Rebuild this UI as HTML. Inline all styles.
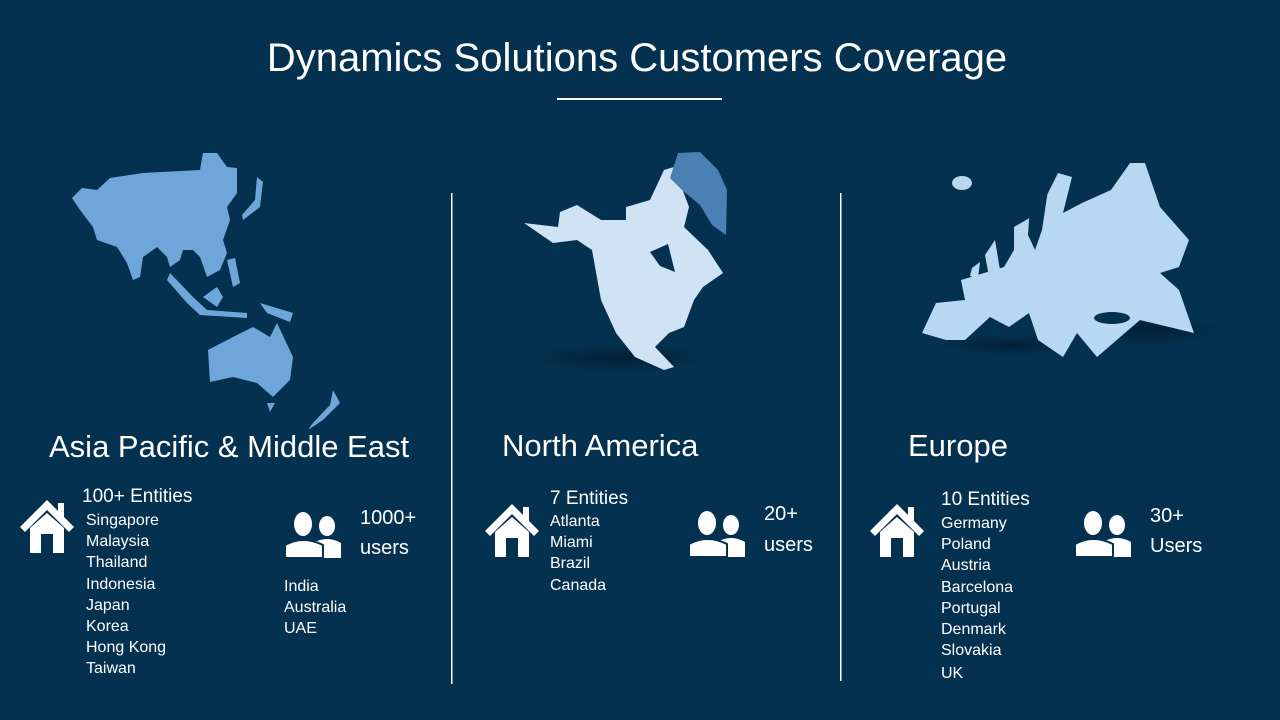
<!DOCTYPE html>
<html><head><meta charset="utf-8"><style>
html,body{margin:0;padding:0;background:#04314f;}
svg{display:block}
text{font-family:"Liberation Sans",sans-serif;fill:#fff}
</style></head><body>
<svg width="1280" height="720" viewBox="0 0 1280 720" xmlns="http://www.w3.org/2000/svg">
<defs>
<radialGradient id="sh" cx="50%" cy="50%" r="50%"><stop offset="0" stop-color="#001a2e" stop-opacity="0.8"/><stop offset="1" stop-color="#001a2e" stop-opacity="0"/></radialGradient>
<g id="house">
<polygon points="0,27 27,0 54,27 49,32 27,10 5,32" fill="#fff"/>
<rect x="38" y="3" width="6" height="14" fill="#fff"/>
<path d="M10,28 L27,13 L44,28 L44,53 L33,53 L33,34 L21,34 L21,53 L10,53 Z" fill="#fff"/>
</g>
<g id="ppl">
<ellipse cx="42" cy="16" rx="8" ry="10" fill="#fff"/>
<path d="M28,48 L28,33 Q42,25 56,33 L56,48 Z" fill="#fff"/>
<ellipse cx="18" cy="14" rx="10" ry="13" stroke="#04314f" stroke-width="2" fill="#fff"/>
<path d="M0,48 L0,35 Q18,25 38,35 L38,48 Z" fill="#fff" stroke="#04314f" stroke-width="2"/>
</g>
</defs>
<rect width="1280" height="720" fill="#04314f"/>
<text x="637" y="71" font-size="40" text-anchor="middle">Dynamics Solutions Customers Coverage</text>
<rect x="557" y="98" width="165" height="2" fill="#fff"/>
<rect x="451" y="193" width="1.5" height="491" fill="#fff"/>
<rect x="840" y="193" width="1.5" height="488" fill="#fff"/>

<!-- Asia -->
<g fill="#6fa6da">
<polygon points="72,198 82,188 97,190 110,178 143,173 200,170 203,153 217,153 227,167 237,168 237,193 227,207 230,220 223,240 227,253 220,270 207,277 200,257 193,250 183,250 180,260 170,267 167,257 157,247 143,257 140,277 133,280 127,263 117,247 97,240 93,227 80,210"/>
<polygon points="257,177 263,182 260,207 243,220 242,215 255,200"/>
<polygon points="170,273 193,297 207,310 247,313 247,318 200,315 187,303 167,280"/>
<polygon points="203,297 217,287 223,297 217,307"/>
<polygon points="260,303 293,313 290,322 267,313"/>
<polygon points="227,260 235,258 240,283 233,287"/>
<polygon points="208,350 233,337 253,327 270,337 277,323 293,357 290,380 273,397 257,383 233,377 210,382"/>
<polygon points="267,403 275,403 270,412"/>
<polygon points="333,390 340,403 323,420 308,430 312,424 330,405"/>
</g>

<!-- North America -->
<ellipse cx="620" cy="358" rx="90" ry="14" fill="url(#sh)"/>
<polygon fill="#cfe3f5" points="560,212 577,205 601,220 626,220 626,207 650,200 664,170 674,167 689,207 684,227 708,250 723,273 703,287 694,300 684,327 669,333 655,347 674,367 664,370 635,357 616,333 601,300 592,250 577,240 553,243 524,223 558,227"/>
<polygon fill="#04314f" points="650,252 668,244 675,272 660,266"/>
<polygon fill="#4a80b4" points="678,153 700,152 718,170 727,190 726,235 712,225 700,205 682,190 670,178"/>

<!-- Europe -->
<ellipse cx="1150" cy="330" rx="70" ry="16" fill="url(#sh)"/>
<ellipse cx="1010" cy="345" rx="70" ry="10" fill="url(#sh)"/>
<g fill="#b8d7f2">
<polygon points="922,333 936,303 965,300 961,280 1004,267 1014,250 1014,227 1038,213 1058,173 1072,177 1063,213 1082,203 1111,190 1130,163 1145,163 1160,207 1189,240 1179,267 1160,273 1179,290 1194,333 1140,320 1097,357 1077,333 1063,357 1038,340 1029,313 1009,327 990,317 965,340 946,340"/>
<polygon points="985,255 995,240 1000,270 990,282"/>
<polygon points="972,268 980,262 978,278 970,276"/>
<ellipse cx="962" cy="183" rx="10" ry="7"/>
</g>
<ellipse cx="1112" cy="318" rx="18" ry="6" fill="#04314f"/>
<polygon fill="#04314f" points="1030,205 1048,190 1042,230 1035,250 1028,235"/>

<text x="49" y="457" font-size="31">Asia Pacific &amp; Middle East</text>
<text x="502" y="456" font-size="31">North America</text>
<text x="908" y="456" font-size="31">Europe</text>

<use href="#house" x="20" y="500"/>
<use href="#ppl" x="285" y="510"/>
<text x="82" y="502" font-size="19">100+ Entities</text>
<g font-size="16">
<text x="86" y="525" font-size="16">Singapore</text>
<text x="86" y="546" font-size="16">Malaysia</text>
<text x="86" y="567" font-size="16">Thailand</text>
<text x="86" y="589" font-size="16">Indonesia</text>
<text x="86" y="610" font-size="16">Japan</text>
<text x="86" y="631" font-size="16">Korea</text>
<text x="86" y="652" font-size="16">Hong Kong</text>
<text x="86" y="673" font-size="16">Taiwan</text>
<text x="284" y="591" font-size="16">India</text>
<text x="284" y="612" font-size="16">Australia</text>
<text x="284" y="633" font-size="16">UAE</text>
</g>
<text x="360" y="524" font-size="20">1000+</text>
<text x="360" y="554" font-size="20">users</text>

<use href="#house" x="485" y="504"/>
<use href="#ppl" x="689" y="509"/>
<text x="550" y="504" font-size="19">7 Entities</text>
<text x="550" y="526" font-size="16">Atlanta</text>
<text x="550" y="547" font-size="16">Miami</text>
<text x="550" y="568" font-size="16">Brazil</text>
<text x="550" y="590" font-size="16">Canada</text>
<text x="764" y="520" font-size="20">20+</text>
<text x="764" y="551" font-size="20">users</text>

<use href="#house" x="870" y="504"/>
<use href="#ppl" x="1075" y="509"/>
<text x="941" y="505" font-size="19">10 Entities</text>
<text x="941" y="528" font-size="16">Germany</text>
<text x="941" y="549" font-size="16">Poland</text>
<text x="941" y="570" font-size="16">Austria</text>
<text x="941" y="592" font-size="16">Barcelona</text>
<text x="941" y="613" font-size="16">Portugal</text>
<text x="941" y="634" font-size="16">Denmark</text>
<text x="941" y="655" font-size="16">Slovakia</text>
<text x="941" y="678" font-size="16">UK</text>
<text x="1150" y="522" font-size="20">30+</text>
<text x="1150" y="552" font-size="20">Users</text>
</svg>
</body></html>
